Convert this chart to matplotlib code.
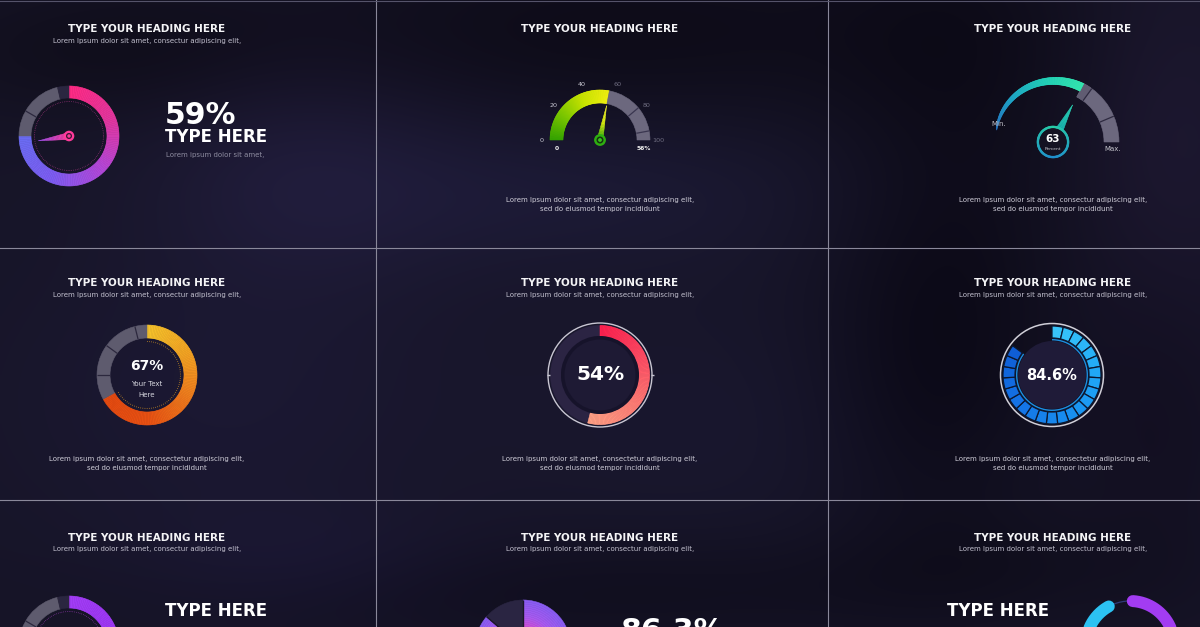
import numpy as np
import matplotlib
matplotlib.use("Agg")
import matplotlib.pyplot as plt
from matplotlib.patches import Wedge, Circle, Polygon
from matplotlib.colors import LinearSegmentedColormap

# ---------------- data ----------------
headings = ["TYPE YOUR HEADING HERE"] * 9
subtitle = "Lorem Ipsum dolor sit amet, consectur adipiscing elit,"
body_a = ["Lorem Ipsum dolor sit amet, consectur adipiscing elit,",
          "sed do eiusmod tempor incididunt"]
body_b = ["Lorem ipsum dolor sit amet, consectetur adipiscing elit,",
          "sed do eiusmod tempor incididunt"]
big_caption = "TYPE HERE"
small_caption = "Lorem ipsum dolor sit amet,"

p1_label = "59%"
p1_arc_pct = 75            # coloured share of the first ring as drawn
gauge_ticks = [0, 20, 40, 60, 80, 100]
gauge_value = 56
speed_value = 63
ring4_value = 67
ring5_value = 54
ring6_value = 84.6
ring6_segments = 27
pie_value = 86.3
pie_shares = [62.0, 24.3, 13.7]   # last share = uncoloured slice
ring7_arc_pct = 75
ring9_purple = [1, 72]     # percent, clockwise from top
ring9_cyan = [80, 92]

# ---------------- canvas ----------------
W, H = 1200, 627
fig = plt.figure(figsize=(12, 6.27), dpi=100)
ax = fig.add_axes([0, 0, 1, 1])
ax.set_xlim(0, W)
ax.set_ylim(H, 0)
ax.axis("off")

yy, xx = np.mgrid[0:H:3, 0:W:3].astype(float)
img = np.zeros(xx.shape + (3,)) + np.array([23, 21, 40], float)
blobs = [
    (620, 30, 260, 70, (-9, -9, -15)),
    (120, 50, 150, 50, (-6, -6, -11)),
    (300, 170, 110, 90, (8, 6, 15)),
    (560, 190, 180, 55, (5, 5, 13)),
    (960, 120, 90, 200, (-7, -7, -11)),
    (1170, 140, 60, 120, (6, 3, 8)),
    (220, 400, 150, 100, (4, 3, 10)),
    (700, 420, 150, 80, (2, 2, 6)),
    (930, 380, 80, 120, (-8, -8, -12)),
    (1160, 420, 60, 120, (-4, -5, -6)),
    (600, 590, 300, 40, (-6, -6, -9)),
    (300, 560, 120, 40, (4, 3, 10)),
    (1000, 560, 120, 40, (-3, -3, -5)),
]
for bx, by, sx_, sy_, d in blobs:
    g = np.exp(-(((xx - bx) / sx_) ** 2 + ((yy - by) / sy_) ** 2) / 2)
    img += g[..., None] * np.array(d, float)
img = np.clip(img / 255.0, 0, 1)
ax.imshow(img, extent=[0, W, H, 0], interpolation="bilinear", aspect="auto", zorder=0)

# grid lines between panels
for x in (376, 828):
    ax.plot([x, x], [0, H], color="#8a889a", lw=0.8, zorder=1)
for y in (248, 500):
    ax.plot([0, W], [y, y], color="#8a889a", lw=0.8, zorder=1)
ax.plot([0, W], [0.5, 0.5], color="#55536a", lw=0.8, zorder=1)


# ---------------- helpers ----------------
def pt(cx, cy, r, a):
    t = np.radians(a)
    return cx + r * np.cos(t), cy - r * np.sin(t)


def wedge(cx, cy, rin, rout, a0, a1, color, z=3, ec=None, lw=0.4):
    lo, hi = sorted((a0, a1))
    ax.add_patch(Wedge((cx, cy), rout, -hi, -lo, width=rout - rin, fc=color,
                       ec=color if ec is None else ec, lw=lw, zorder=z))


def grad_arc(cx, cy, rin, rout, a0, a1, colors, n=120, z=3):
    cm = LinearSegmentedColormap.from_list("g", colors)
    ph = np.linspace(a0, a1, n + 1)
    for i in range(n):
        ro = rout(i / (n - 1)) if callable(rout) else rout
        ri = rin(i / (n - 1)) if callable(rin) else rin
        wedge(cx, cy, ri, ro, ph[i], ph[i + 1], cm(i / (n - 1)), z=z)


def radial(cx, cy, r0, r1, a, color, lw=1.0, z=4):
    x0, y0 = pt(cx, cy, r0, a)
    x1, y1 = pt(cx, cy, r1, a)
    ax.plot([x0, x1], [y0, y1], color=color, lw=lw, zorder=z, solid_capstyle="butt")


def needle(cx, cy, a, r0, length, wbase, colors, n=24, z=6):
    cm = LinearSegmentedColormap.from_list("n", colors)
    t = np.radians(a)
    u = np.array([np.cos(t), -np.sin(t)])
    v = np.array([np.sin(t), np.cos(t)])
    c = np.array([cx, cy])
    ts = np.linspace(0, 1, n + 1)
    for i in range(n):
        t0, t1 = ts[i], ts[i + 1]
        w0, w1 = wbase / 2 * (1 - t0), wbase / 2 * (1 - t1)
        p0 = c + u * (r0 + length * t0)
        p1 = c + u * (r0 + length * t1)
        poly = [p0 + v * w0, p1 + v * w1, p1 - v * w1, p0 - v * w0]
        col = cm(i / (n - 1))
        ax.add_patch(Polygon(poly, closed=True, fc=col, ec=col, lw=0.3, zorder=z))


def dotted_arc(cx, cy, r, a0, a1, color, lw=0.7, z=4):
    th = np.radians(np.linspace(a0, a1, 300))
    ax.plot(cx + r * np.cos(th), cy - r * np.sin(th), color=color, lw=lw,
            ls=(0, (0.6, 1.6)), zorder=z)


def line_arc(cx, cy, r, a0, a1, color, lw, z=4, cap="round"):
    th = np.radians(np.linspace(a0, a1, 200))
    ax.plot(cx + r * np.cos(th), cy - r * np.sin(th), color=color, lw=lw,
            solid_capstyle=cap, zorder=z)


def txt(x, y, s, size, color="white", weight="normal", ha="center", va="center", z=8):
    ax.text(x, y, s, fontsize=size, color=color, fontweight=weight, ha=ha, va=va,
            family="DejaVu Sans", zorder=z)


def cw_end(pct):
    return 90 - 360 * pct / 100.0


HEAD = 7.45
SUB = 5.0
sub_col = "#c2c0ce"
body_col = "#cfcdd8"

# ---------------- headings ----------------
centers_x = [147, 600, 1053]
rows_y = [29, 283, 538]
k = 0
for ry in rows_y:
    for cxp in centers_x:
        txt(cxp, ry, headings[k], HEAD, weight="bold", color="#f4f4f6")
        k += 1
for ry in rows_y:
    for j, cxp in enumerate(centers_x):
        if ry == 29 and j > 0:
            continue
        txt(cxp, ry + 11.5, subtitle, SUB, color=sub_col)

# bottom body texts
for cxp in (600, 1053):
    txt(cxp, 200, body_a[0], SUB, color=body_col)
    txt(cxp, 209, body_a[1], SUB, color=body_col)
for cxp in (147, 600, 1053):
    txt(cxp, 459, body_b[0], SUB, color=body_col)
    txt(cxp, 468, body_b[1], SUB, color=body_col)


# ---------------- panel 1 & 7 : ring with needle ----------------
def needle_ring(cx, cy, arc_pct, colors, dot_col, hub_col, with_needle=True):
    end = cw_end(arc_pct)
    grad_arc(cx, cy, 38, 50, 90, end, colors)
    wedge(cx, cy, 38, 50, end + 360 if end < -90 else end, 103, "#5e5b6e")
    wedge(cx, cy, 38, 50, 103, 90, "#2a2640")
    radial(cx, cy, 38, 50, 150, "#2c283e", lw=0.9)
    radial(cx, cy, 38, 50, 103, "#2c283e", lw=0.9)
    dotted_arc(cx, cy, 34.5, 0, 360, dot_col, lw=0.6)
    if with_needle:
        needle(cx, cy, 189, 0, 31, 7, [hub_col, "#9a50e8"])
        ax.add_patch(Circle((cx, cy), 4.6, fc=hub_col, ec=hub_col, zorder=7))
        ax.add_patch(Circle((cx, cy), 2.3, fc="#3a1634", ec="#3a1634", zorder=7))
        ax.add_patch(Circle((cx, cy), 1.0, fc=hub_col, ec=hub_col, zorder=7))


needle_ring(69, 136, p1_arc_pct,
            ["#ff2a84", "#e3369e", "#b447d8", "#7d5cf2", "#6a6cf2"], "#c03c90", "#ff3a9a")
txt(165, 115, p1_label, 21.5, weight="bold", ha="left")
txt(165, 137, big_caption, 12, weight="bold", ha="left")
txt(166, 155, small_caption, 5.0, color="#8e8ca0", ha="left")

needle_ring(69, 646, ring7_arc_pct, ["#a23cf6", "#9832f0", "#8a30e8"], "#b040d0", "#a040f0",
            with_needle=False)
txt(165, 611, big_caption, 12, weight="bold", ha="left")
txt(166, 630, small_caption, 5.0, color="#8e8ca0", ha="left")

# ---------------- panel 2 : semicircle gauge ----------------
gx, gy = 600, 140
g_end = 180 - 1.8 * gauge_value
grad_arc(gx, gy, 37, 50, 180, g_end, ["#34a400", "#7cc800", "#c8e400", "#f0f010"])
wedge(gx, gy, 37, 50, g_end, 0, "#6c687e")
for a in (40, 10.5):
    radial(gx, gy, 37, 50, a, "#3a3650", lw=0.9)
for tv in gauge_ticks:
    a = 180 - 1.8 * tv
    x, y = pt(gx, gy, 58, a)
    txt(x, y, str(tv), 4.6, color="#c8c8d2" if tv <= gauge_value else "#6e6c80")
x0, _ = pt(gx, gy, 43.5, 180)
x1, _ = pt(gx, gy, 43.5, 0)
txt(x0, 148, "0", 4.3, weight="bold", color="#f0f0f0")
txt(x1, 148, f"{gauge_value}%", 4.3, weight="bold", color="#f0f0f0")
needle(gx, gy, g_end, 0, 35, 6, ["#2ea810", "#d8ec10", "#f4f030"])
ax.add_patch(Circle((gx, gy), 5.2, fc="#2eb010", ec="#2eb010", zorder=7))
ax.add_patch(Circle((gx, gy), 2.8, fc="#173410", ec="#173410", zorder=7))
ax.add_patch(Circle((gx, gy), 1.2, fc="#3cc020", ec="#3cc020", zorder=7))

# ---------------- panel 3 : speedometer ----------------
sx, sy = 1053, 142
s_start = 168
s_end = s_start - s_start * speed_value / 100.0
wedge(sx, sy, 51, 66, s_end, 0, "#6c687e")
wedge(sx, sy, 51, 66, s_end, 54, "#605c72")
for a in (54, 23):
    radial(sx, sy, 51, 66, a, "#2e2a40", lw=0.9)
grad_arc(sx, sy, 57.5, lambda f: 57.6 + 8.4 * f ** 0.6, s_start, s_end,
         ["#2470c0", "#1fa8c8", "#22d0b8", "#34e8b0"], n=160)
txt(*pt(sx, sy, 57, 162), "Min.", 5.0, color="#c4c4cc")
txt(1113, 149, "Max.", 5.0, color="#c4c4cc")
needle(sx, sy, s_end, 12, 30, 8, ["#18b0b0", "#2ad8b8"])
ax.add_patch(Circle((sx, sy), 15.5, fc="#141222", ec="none", zorder=7))
grad_arc(sx, sy, 14.2, 16.0, 90, 270, ["#28d0a8", "#2090d0"], n=60, z=7)
grad_arc(sx, sy, 14.2, 16.0, 90, -90, ["#28d0a8", "#2090d0"], n=60, z=7)
txt(sx, sy - 3.5, str(speed_value), 7.5, weight="bold")
txt(sx, sy + 6.5, "Percent", 3.2, color="#c8c8d0")

# ---------------- panel 4 : orange ring ----------------
cx4, cy4 = 147, 375
e4 = cw_end(ring4_value)
grad_arc(cx4, cy4, 37, 50, 90, e4, ["#f5c22a", "#f2a322", "#ee7a1c", "#e85012", "#e44a10"])
wedge(cx4, cy4, 37, 50, e4 + 360, 90, "#5e5b6e")
for a in (180, 144, 104):
    radial(cx4, cy4, 37, 50, a, "#2c283e", lw=0.9)
dotted_arc(cx4, cy4, 33.5, 90, e4, "#e8a020", lw=0.7)
txt(cx4, 366, f"{ring4_value}%", 10, weight="bold")
txt(cx4, 384, "Your Text", 5.0, color="#d8d8e0")
txt(cx4, 395, "Here", 5.0, color="#d8d8e0")

# ---------------- panel 5 : red ring ----------------
cx5, cy5 = 600, 375
ax.add_patch(Circle((cx5, cy5), 52, fc="none", ec="#c8c6d2", lw=1.0, zorder=3))
for a in (0, 180):
    radial(cx5, cy5, 50.5, 53.5, a, "#c8c6d2", lw=1.0)
wedge(cx5, cy5, 39, 49.5, 0, 360, "#2b2443")
e5 = cw_end(ring5_value)
grad_arc(cx5, cy5, 39, 49.5, 90, e5, ["#ff1f4e", "#ff4a62", "#ff7c74", "#ffa084"])
ax.add_patch(Circle((cx5, cy5), 39, fc="#16132a", ec="none", zorder=4))
ax.add_patch(Circle((cx5, cy5), 35.5, fc="#1e1a34", ec="none", zorder=4))
txt(cx5, cy5, f"{ring5_value}%", 14.5, weight="bold")

# ---------------- panel 6 : segmented blue ring ----------------
cx6, cy6 = 1052, 375
ax.add_patch(Circle((cx6, cy6), 51.5, fc="none", ec="#d0cfd8", lw=1.1, zorder=3))
lit = int(round(ring6_value / 100 * ring6_segments))
step = 360.0 / ring6_segments
cm6 = LinearSegmentedColormap.from_list("b", ["#38c4fa", "#22aaf6", "#1890f0", "#1474e6", "#0f5ed6"])
for i in range(lit):
    a0 = 90 - i * step
    a1 = a0 - step
    c = cm6(i / max(lit - 1, 1))
    wedge(cx6, cy6, 37, 49, a1, a0, c, ec="#0c1830", lw=0.9)
line_arc(cx6, cy6, 35.3, 90, 90 - lit * step, "#1c8ee0", 1.0, cap="butt")
ax.add_patch(Circle((cx6, cy6), 34, fc="#1f1b38", ec="none", zorder=4))
txt(cx6, cy6, f"{ring6_value}%", 10.5, weight="bold")

# ---------------- panel 8 : pie ----------------
px, py, pr = 523, 648, 48
cmp = LinearSegmentedColormap.from_list("p", ["#ff3ca8", "#e048c8", "#a85af0", "#8a5cf2"])
a = 90.0
for i, sh in enumerate(pie_shares):
    span = 360 * sh / 100.0
    if i == len(pie_shares) - 1:
        wedge(px, py, 0, pr, a, a - span, "#2a2542", z=3)
    else:
        nr = 24
        for j in range(nr):
            r0 = pr * j / nr
            r1 = pr * (j + 1) / nr
            wedge(px, py, r0, r1, a, a - span, cmp(j / (nr - 1)), z=3)
    radial(px, py, 0, pr, a, "#1a1628", lw=1.0, z=4)
    a -= span
txt(620, 617, f"{pie_value}%", 21.5, weight="bold", ha="left", va="top")

# ---------------- panel 9 : purple/cyan ring ----------------
cx9, cy9 = 1130, 645
ax.add_patch(Circle((cx9, cy9), 44, fc="none", ec="#2f3a78", lw=0.9, zorder=3))
line_arc(cx9, cy9, 44, cw_end(ring9_purple[0]), cw_end(ring9_purple[1]), "#a23cf2", 8.6)
line_arc(cx9, cy9, 44, cw_end(ring9_cyan[0]), cw_end(ring9_cyan[1]), "#2cc2f2", 8.6)
txt(947, 611, big_caption, 12, weight="bold", ha="left")
txt(948, 630, small_caption, 5.0, color="#8e8ca0", ha="left")

fig.savefig("out.png", dpi=100)
